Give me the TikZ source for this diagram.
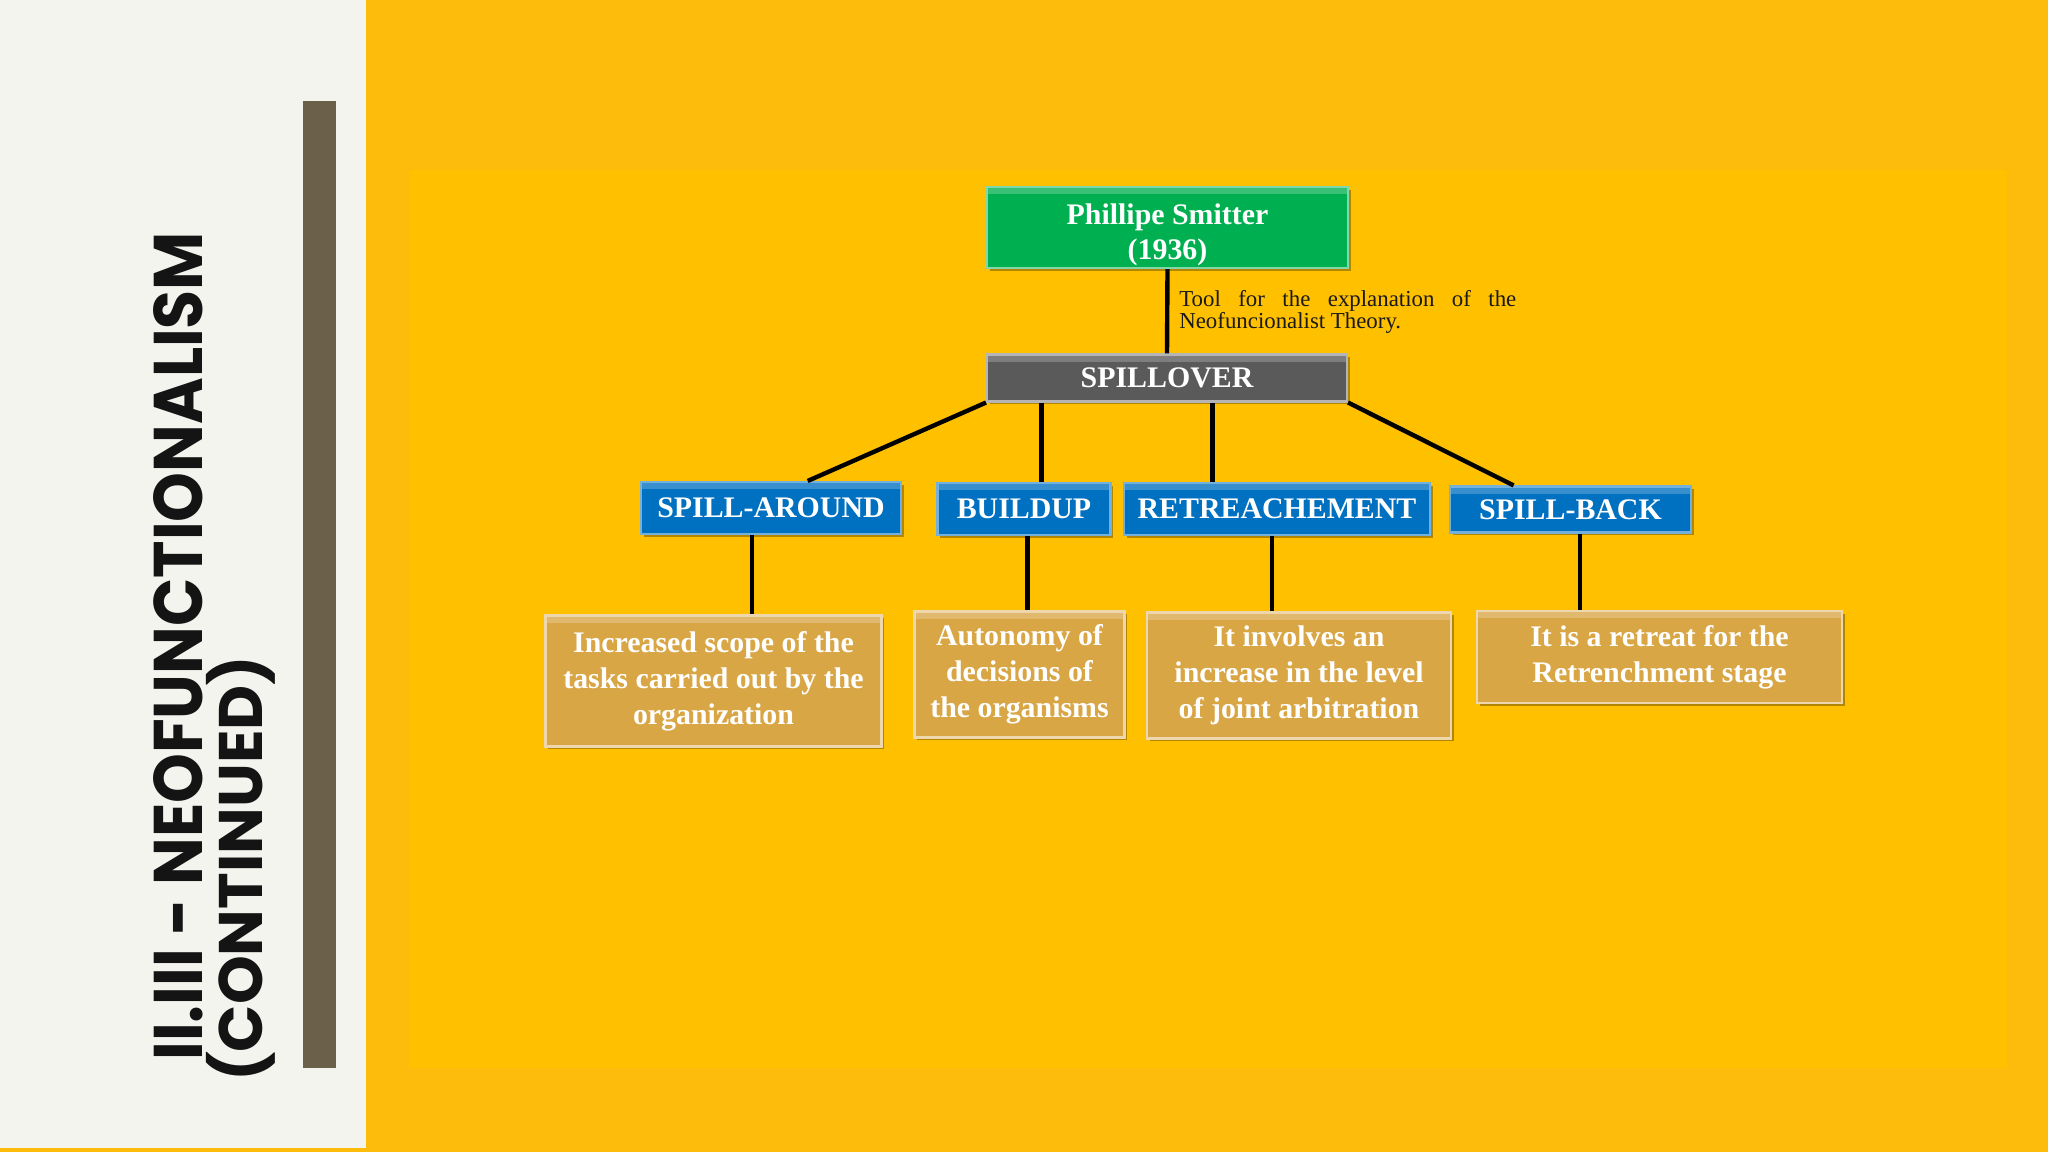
\documentclass[tikz,border=0pt]{standalone}
\usepackage{fontspec}
\setmainfont{Liberation Serif}
\newfontfamily\titlefont{Poppins}
\usetikzlibrary{calc,shadows}
\definecolor{panel}{HTML}{F4F4EF}
\definecolor{barcol}{HTML}{6B6049}
\definecolor{outerbg}{HTML}{FDBC0C}
\definecolor{innerbg}{HTML}{FFC000}
\definecolor{sgreen}{HTML}{00B050}
\definecolor{sgray}{HTML}{5A5A5A}
\definecolor{sblue}{HTML}{0070C0}
\definecolor{sgold}{HTML}{D9A646}
\definecolor{titlecol}{HTML}{141414}
\tikzset{
  box/.style={rectangle, inner sep=0pt, align=center, text=white,
    font=\fontsize{17}{20}\selectfont\bfseries, line width=1.2pt,
    drop shadow={shadow xshift=1.5pt, shadow yshift=-1.5pt, opacity=0.3, fill=black},
    path picture={\fill[white,opacity=0.22] (path picture bounding box.north west) rectangle ([yshift=-4pt]path picture bounding box.north east);}},
  greenbox/.style={box, fill=sgreen, draw=sgreen!50!white},
  graybox/.style={box, fill=sgray, draw=sgray!45!white},
  bluebox/.style={box, fill=sblue, draw=sblue!55!white},
  goldbox/.style={box, fill=sgold, draw=sgold!45!white, font=\fontsize{17}{20.4}\selectfont\bfseries},
  link/.style={line width=2.5pt, black},
  titletext/.style={rotate=90, anchor=base west, inner sep=0pt, text=titlecol}
}
\begin{document}
\begin{tikzpicture}[x=0.02cm, y=-0.02cm]
\useasboundingbox (0,0) rectangle (2048,1152);
% backgrounds
\fill[panel] (0,0) rectangle (366,1152);
\fill[outerbg] (366,0) rectangle (2048,1152);
\fill[innerbg] (409,170) rectangle (2007,1068);
\fill[outerbg] (0,1148) rectangle (366,1152);
\fill[barcol] (303,101) rectangle (336,1068);
% title
\node[titletext] (title1) at (202,1061) {\resizebox{16.58cm}{0.98cm}{\titlefont\bfseries II.III - NEOFUNCTIONALISM}};
\node[titletext] (title2) at (262,1082) {\resizebox*{8.52cm}{1.38cm}{\titlefont\bfseries (CONTINUED)}};
% nodes
\node[greenbox, minimum width=7.22cm, minimum height=1.62cm] (smitter) at (1167.5,227.5) {\rule{0pt}{20pt}Phillipe Smitter\\(1936)};
\node[graybox, minimum width=7.2cm, minimum height=0.94cm] (spill) at (1167,378) {SPILLOVER};
\node[bluebox, minimum width=5.2cm, minimum height=1.04cm] (around) at (771,508) {SPILL-AROUND};
\node[bluebox, minimum width=3.46cm, minimum height=1.04cm] (buildup) at (1024,509) {BUILDUP};
\node[bluebox, minimum width=6.12cm, minimum height=1.04cm] (retr) at (1277,509) {RETREACHEMENT};
\node[bluebox, minimum width=4.82cm, minimum height=0.92cm] (back) at (1570.5,509.5) {SPILL-BACK};
\node[goldbox, minimum width=6.72cm, minimum height=2.62cm] (g1) at (713.5,681) {Increased scope of the\\tasks carried out by the\\organization};
\node[goldbox, minimum width=4.2cm, minimum height=2.52cm] (g2) at (1019.5,674.5) {Autonomy of\\decisions of\\the organisms};
\node[goldbox, minimum width=6.08cm, minimum height=2.52cm] (g3) at (1299,675.5) {It involves an\\increase in the level\\of joint arbitration};
\node[goldbox, minimum width=7.3cm, minimum height=1.84cm] (g4) at (1659.5,657) {It is a retreat for the\\Retrenchment stage};
\node[anchor=north west, inner sep=0pt, text width=6.74cm, align=justify, text=black!90,
  font=\fontsize{13}{12.5}\selectfont] (note) at (1179,290) {Tool for the explanation of the\linebreak Neofuncionalist Theory.};
% connectors
\draw[link] (smitter.south) -- (spill.north);
\draw[link] (spill.south west) -- ($(around.north west)!0.64!(around.north east)$);
\coordinate (cb) at ($(buildup.north west)!0.6!(buildup.north east)$);
\draw[link] (cb) -- (cb |- spill.south);
\coordinate (cr) at ($(retr.north west)!0.29!(retr.north east)$);
\draw[link] (cr) -- (cr |- spill.south);
\draw[link] (spill.south east) -- ($(back.north west)!0.266!(back.north east)$);
\coordinate (da) at ($(around.south west)!0.427!(around.south east)$);
\draw[link] (da) -- (da |- g1.north);
\coordinate (db) at ($(buildup.south west)!0.52!(buildup.south east)$);
\draw[link] (db) -- (db |- g2.north);
\coordinate (dr) at ($(retr.south west)!0.484!(retr.south east)$);
\draw[link] (dr) -- (dr |- g3.north);
\coordinate (dk) at ($(back.south west)!0.54!(back.south east)$);
\draw[link] (dk) -- (dk |- g4.north);
\end{tikzpicture}
\end{document}
